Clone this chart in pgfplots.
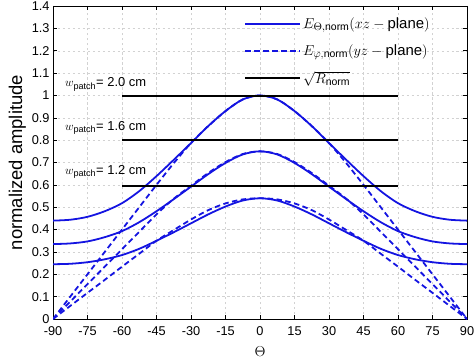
\documentclass[border=0pt]{standalone}
\usepackage{fontspec}
\setmainfont{Liberation Sans}
\usepackage{amsmath}
\usepackage{pgfplots}
\pgfplotsset{compat=1.18}
\definecolor{lb}{RGB}{20,20,225}
\begin{document}
\begin{tikzpicture}
\begin{axis}[
  at={(0,0)}, anchor=south west,
  scale only axis, width=414bp, height=313bp,
  xmin=-90, xmax=90, ymin=0, ymax=1.4,
  xtick={-90,-75,-60,-45,-30,-15,0,15,30,45,60,75,90},
  ytick={0,0.1,0.2,0.3,0.4,0.5,0.6,0.7,0.8,0.9,1,1.1,1.2,1.3,1.4},
  grid=major,
  major grid style={dash pattern=on 2.5pt off 2.5pt, gray!35, line width=0.4pt},
  tick align=inside, major tick length=4bp,
  tick style={black, line width=0.5pt},
  axis line style={line width=0.9pt},
  ticklabel style={font=\fontsize{12.8}{15}\selectfont},
  xticklabel style={yshift=-4bp},
  /pgf/number format/assume math mode=true,
  xlabel={$\Theta$}, ylabel={normalized amplitude},
  xlabel style={font=\fontsize{14.5}{16}\selectfont, yshift=-4bp},
  ylabel style={font=\fontsize{18.5}{21}\selectfont, yshift=-1bp},
  legend style={at={(0.459,0.973)}, anchor=north west, draw=none, fill=none,
    font=\fontsize{15}{18}\selectfont, row sep=10.5bp, inner sep=1bp},
  legend cell align=left,
  legend image code/.code={\draw[#1] (0bp,0bp) -- (55bp,0bp);},
]
% solid curves (xz-plane)
\addplot[lb, line width=1.8pt, smooth] coordinates {(-90,0.440) (-82.5,0.444) (-75,0.457) (-67.5,0.482) (-60,0.518) (-52.5,0.572) (-45,0.639) (-37.5,0.712) (-30,0.787) (-22.5,0.863) (-15,0.930) (-7.5,0.982) (0,1.000) (7.5,0.982) (15,0.930) (22.5,0.863) (30,0.787) (37.5,0.712) (45,0.639) (52.5,0.572) (60,0.518) (67.5,0.482) (75,0.457) (82.5,0.444) (90,0.440)};
\addlegendentry{$E_{\Theta,\text{norm}}(xz-\text{plane})$}
\addplot[lb, line width=1.8pt, smooth, forget plot] coordinates {(-90,0.335) (-82.5,0.338) (-75,0.347) (-67.5,0.366) (-60,0.393) (-52.5,0.433) (-45,0.482) (-37.5,0.536) (-30,0.592) (-22.5,0.648) (-15,0.698) (-7.5,0.736) (0,0.750) (7.5,0.736) (15,0.698) (22.5,0.648) (30,0.592) (37.5,0.536) (45,0.482) (52.5,0.433) (60,0.393) (67.5,0.366) (75,0.347) (82.5,0.338) (90,0.335)};
\addplot[lb, line width=1.8pt, smooth, forget plot] coordinates {(-90,0.245) (-82.5,0.247) (-75,0.254) (-67.5,0.267) (-60,0.286) (-52.5,0.314) (-45,0.350) (-37.5,0.388) (-30,0.428) (-22.5,0.468) (-15,0.503) (-7.5,0.530) (0,0.540) (7.5,0.530) (15,0.503) (22.5,0.468) (30,0.428) (37.5,0.388) (45,0.350) (52.5,0.314) (60,0.286) (67.5,0.267) (75,0.254) (82.5,0.247) (90,0.245)};
% dashed curves (yz-plane)
\addplot[lb, line width=1.8pt, smooth, dash pattern=on 5.5pt off 3.5pt] coordinates {(-90,0) (-82.5,0.1) (-75,0.2) (-67.5,0.3) (-60,0.4) (-52.5,0.5) (-45,0.6) (-37.5,0.697) (-30,0.787) (-22.5,0.863) (-15,0.930) (-7.5,0.982) (0,1.0) (7.5,0.982) (15,0.930) (22.5,0.863) (30,0.787) (37.5,0.697) (45,0.6) (52.5,0.5) (60,0.4) (67.5,0.3) (75,0.2) (82.5,0.1) (90,0)};
\addlegendentry{$E_{\varphi,\text{norm}}(yz-\text{plane})$}
\addplot[lb, line width=1.8pt, smooth, dash pattern=on 5.5pt off 3.5pt, forget plot] coordinates {(-90,0) (-82.5,0.078) (-75,0.156) (-67.5,0.234) (-60,0.312) (-52.5,0.39) (-45,0.468) (-37.5,0.538) (-30,0.596) (-22.5,0.653) (-15,0.702) (-7.5,0.738) (0,0.75) (7.5,0.738) (15,0.702) (22.5,0.653) (30,0.596) (37.5,0.538) (45,0.468) (52.5,0.39) (60,0.312) (67.5,0.234) (75,0.156) (82.5,0.078) (90,0)};
\addplot[lb, line width=1.8pt, smooth, dash pattern=on 5.5pt off 3.5pt, forget plot] coordinates {(-90,0) (-82.5,0.0585) (-75,0.117) (-67.5,0.175) (-60,0.234) (-52.5,0.292) (-45,0.35) (-37.5,0.398) (-30,0.445) (-22.5,0.487) (-15,0.517) (-7.5,0.535) (0,0.54) (7.5,0.535) (15,0.517) (22.5,0.487) (30,0.445) (37.5,0.398) (45,0.35) (52.5,0.292) (60,0.234) (67.5,0.175) (75,0.117) (82.5,0.0585) (90,0)};
% black lines
\addplot[black, line width=2pt] coordinates {(-60,0.998) (60,0.998)};
\addlegendentry{$\sqrt{R_{\text{norm}}}$}
\addplot[black, line width=1.8pt, forget plot] coordinates {(-60,0.802) (60,0.802)};
\addplot[black, line width=1.8pt, forget plot] coordinates {(-60,0.595) (60,0.595)};
\node[anchor=west, font=\fontsize{13}{15}\selectfont, inner sep=0pt] at (axis cs:-84.8,1.05) {$w_{\text{patch}}$= 2.0 cm};
\node[anchor=west, font=\fontsize{13}{15}\selectfont, inner sep=0pt] at (axis cs:-84.8,0.855) {$w_{\text{patch}}$= 1.6 cm};
\node[anchor=west, font=\fontsize{13}{15}\selectfont, inner sep=0pt] at (axis cs:-84.8,0.658) {$w_{\text{patch}}$= 1.2 cm};
\end{axis}
\pgfresetboundingbox
\path (-53bp,-42bp) rectangle (421bp,319bp);
\end{tikzpicture}
\end{document}
